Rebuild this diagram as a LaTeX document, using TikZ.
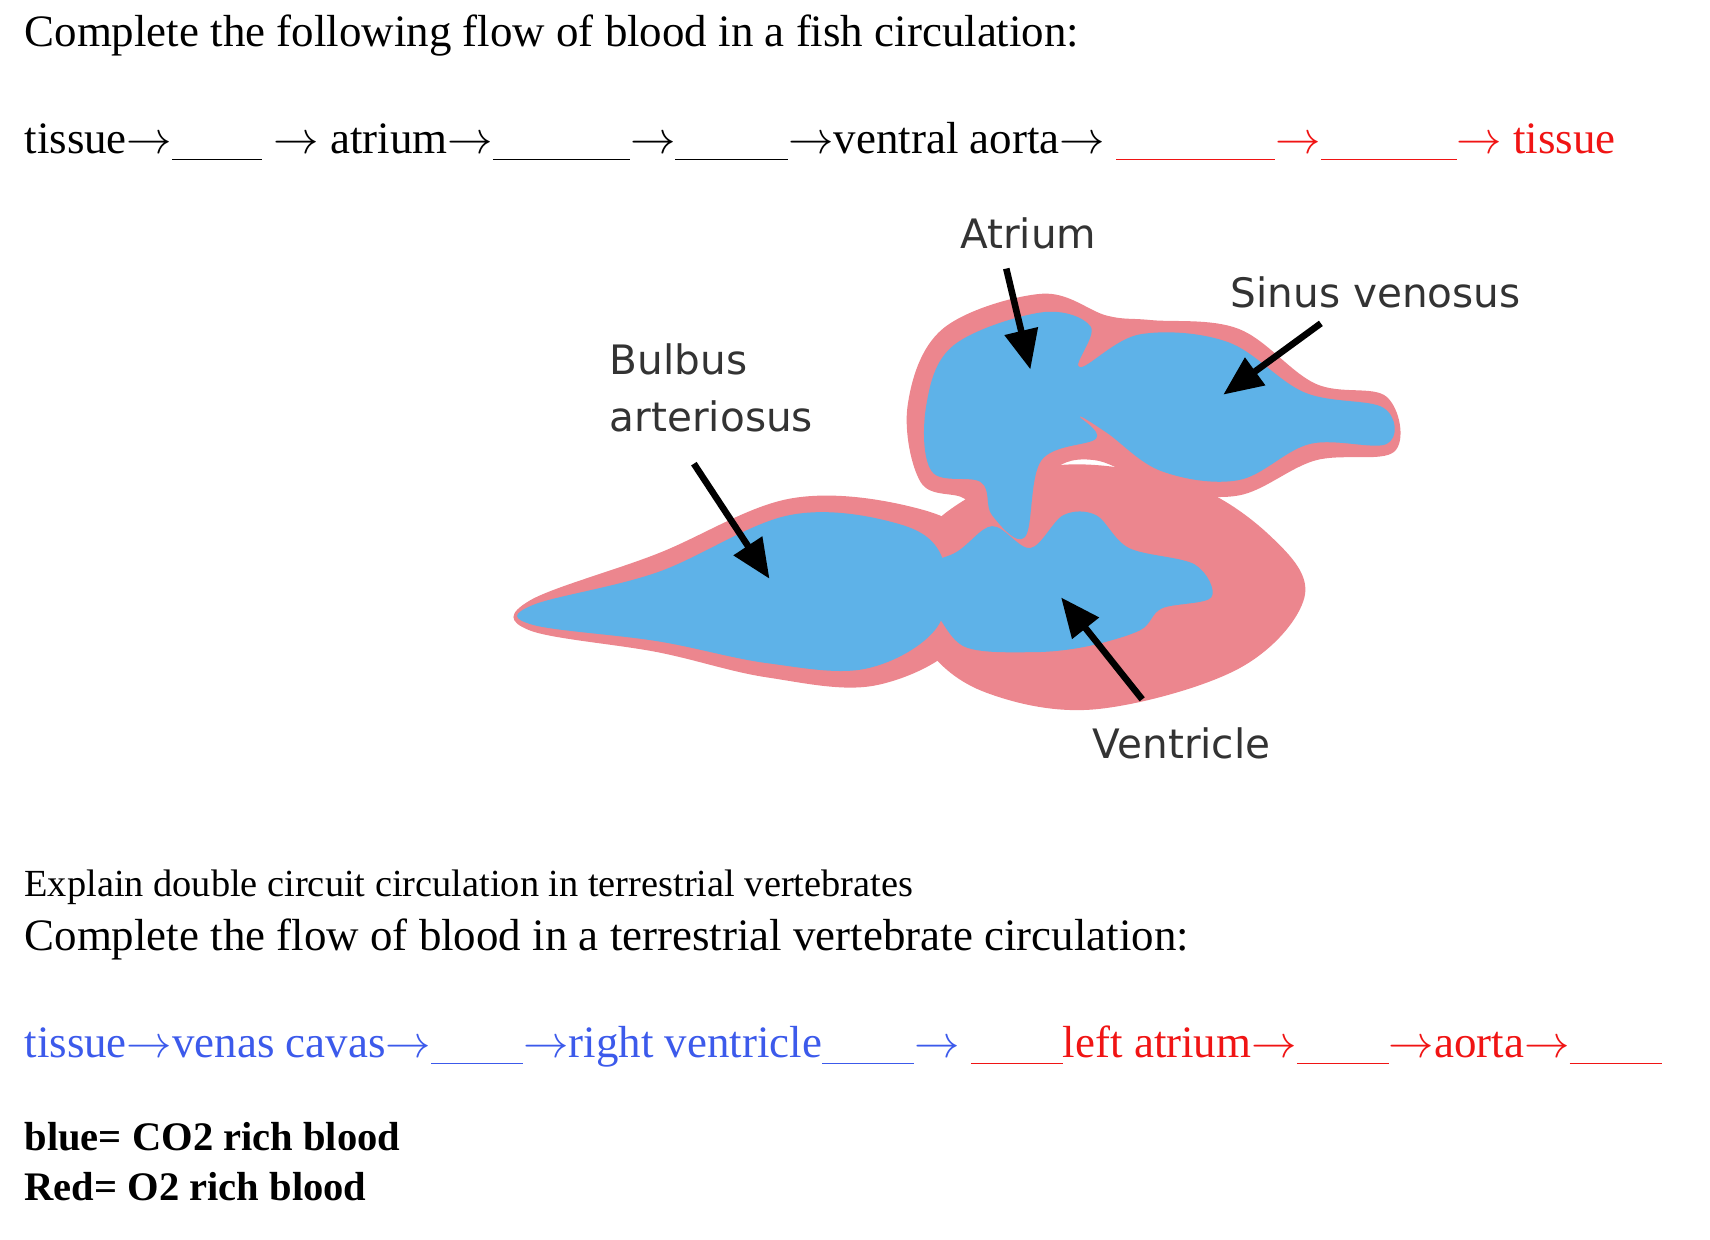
\documentclass[tikz,border=0pt]{standalone}
\usepackage{fontspec}
\setmainfont{Liberation Serif}
\newfontfamily\lab{DejaVu Sans}
\usetikzlibrary{arrows.meta}
\definecolor{pk}{RGB}{236,134,142}
\definecolor{bl}{RGB}{94,178,232}
\definecolor{tb}{RGB}{60,90,235}
\definecolor{tr}{RGB}{240,20,20}
\newcommand\bk[1]{\rule[-3pt]{\dimexpr#1pt/2\relax}{0.6pt}}
\newcommand\ra{$\rightarrow$}
\begin{document}
\begin{tikzpicture}[x=0.5pt,y=-0.5pt,
  txt/.style={anchor=base west,inner sep=0,font=\fontsize{20.5pt}{24pt}\selectfont},
  lbl/.style={inner sep=0,font=\lab\fontsize{18.5pt}{26pt}\selectfont,text=black!80},
  arr/.style={line width=3pt,-{Triangle[length=18pt,width=15pt]}}]
\useasboundingbox (0,0) rectangle (1560,1131);
\node[txt] (t1) at (22,42) {Complete the following flow of blood in a fish circulation:};
\node[txt] (t2) at (22,140) {tissue\ra\bk{82} \ra{} atrium\ra\bk{125}\ra\bk{103}\ra ventral aorta\ra{} \color{tr}\bk{145}\ra\bk{124}\ra{} tissue};
% heart
\fill[pk] plot[smooth cycle,tension=0.6] coordinates{(860,470)(960,425)(1080,440)(1160,490)(1190,545)(1130,610)(1000,647)(900,632)(845,590)(830,530)};
\fill[pk] plot[smooth cycle,tension=0.6] coordinates{(483,548)(600,505)(720,455)(830,462)(885,495)(880,580)(800,625)(700,618)(600,595)(483,575)};
\fill[pk] plot[smooth cycle,tension=0.6] coordinates{(840,440)(828,370)(860,300)(950,268)(1010,288)(1050,292)(1130,300)(1200,350)(1265,362)(1272,412)(1200,420)(1130,452)(1060,445)(1000,420)(960,430)(940,480)(895,480)(880,455)};
\fill[bl] plot[smooth cycle,tension=0.6] coordinates{(486,552)(600,522)(720,470)(820,478)(860,510)(855,572)(790,610)(700,605)(600,585)(486,570)};
\fill[bl] plot[smooth cycle,tension=0.6] coordinates{(850,430)(845,370)(870,315)(950,285)(995,298)(985,335)(1040,305)(1120,312)(1190,358)(1262,372)(1265,405)(1195,405)(1130,438)(1060,430)(1010,395)(985,380)(1000,400)(950,420)(935,490)(905,470)(895,440)};
\fill[bl] plot[smooth cycle,tension=0.55] coordinates{(815,525)(870,505)(905,480)(940,500)(970,470)(1000,470)(1030,500)(1090,515)(1105,545)(1060,555)(1040,575)(990,590)(940,595)(880,590)(850,555)};
% labels & arrows
\node[lbl] (a) at (938,213) {Atrium};
\node[lbl] (s) at (1255,267) {Sinus venosus};
\node[lbl,align=left,anchor=north west] (b) at (556,313) {Bulbus\\arteriosus};
\node[lbl] (v) at (1078,678) {Ventricle};
\coordinate (ah) at (940,337); \coordinate (sh) at (1116,360);
\coordinate (bh) at (702,528); \coordinate (vh) at (968,545);
\draw[arr] (918,245) -- (ah);
\draw[arr] (1205,295) -- (sh);
\draw[arr] (633,423) -- (bh);
\draw[arr] (1042,638) -- (vh);
% lower text
\node[txt,font=\fontsize{17.5pt}{20pt}\selectfont] (t3) at (22,818) {Explain double circuit circulation in terrestrial vertebrates};
\node[txt] (t4) at (22,867) {Complete the flow of blood in a terrestrial vertebrate circulation:};
\node[txt,text=tb] (t5) at (22,965) {tissue\ra venas cavas\ra\bk{84}\ra right ventricle\bk{84}\ra{} \color{tr}\bk{84}left atrium\ra\bk{84}\ra aorta\ra\bk{84}};
\node[txt,font=\bfseries\fontsize{18.5pt}{20pt}\selectfont] (t6) at (22,1050) {blue= CO2 rich blood};
\node[txt,font=\bfseries\fontsize{18.5pt}{20pt}\selectfont] (t7) at (22,1095) {Red= O2 rich blood};
\end{tikzpicture}
\end{document}
